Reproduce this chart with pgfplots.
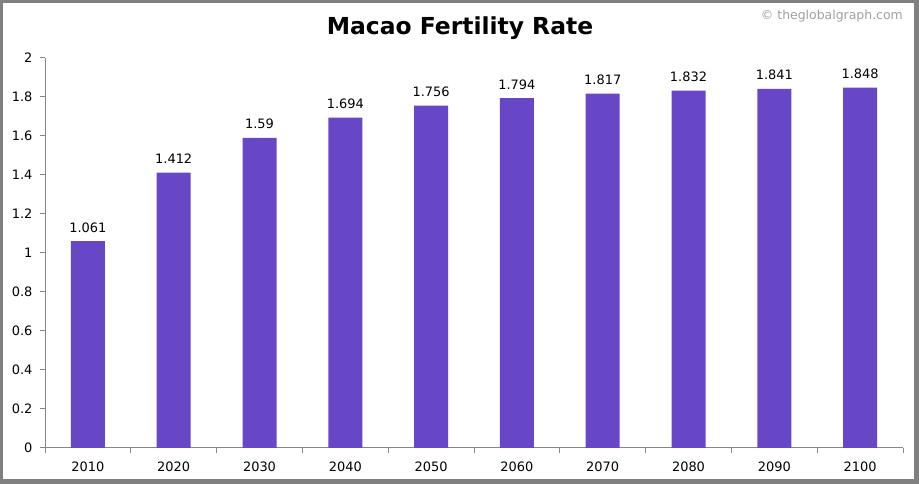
\documentclass[border=0pt]{standalone}
\usepackage{pgfplots}
\pgfplotsset{compat=1.18}
\usepackage{pgfplotstable}
\usepackage{fontspec}
\setmainfont{DejaVu Sans}
\definecolor{barc}{RGB}{104,71,199}
\definecolor{axc}{RGB}{134,134,134}
\definecolor{brd}{RGB}{128,128,128}
\definecolor{cpy}{RGB}{160,160,160}
\pgfplotstableread{
x y lab
0 1.061 1.061
1 1.412 1.412
2 1.59 1.59
3 1.694 1.694
4 1.756 1.756
5 1.794 1.794
6 1.817 1.817
7 1.832 1.832
8 1.841 1.841
9 1.848 1.848
}\datatable
\begin{document}
\begin{tikzpicture}[x=1bp,y=1bp]
\fill[brd] (0,0) rectangle (919,484);
\fill[white] (3,5) rectangle (914,481);
\node[font=\bfseries\fontsize{23.5}{26}\selectfont, anchor=base] at (460,449) {Macao Fertility Rate};
\node[font=\fontsize{12.5}{14}\selectfont, text=cpy, anchor=base east, inner sep=0pt] at (903,464) {© theglobalgraph.com};
\begin{axis}[
  at={(45bp,36bp)}, anchor=south west,
  scale only axis, width=858bp, height=390bp,
  xmin=-0.5, xmax=9.5, ymin=0, ymax=2,
  axis lines=left,
  axis line style={draw=axc, line width=1bp, -},
  /pgf/number format/assume math mode=true,
  xtick={0,...,9},
  xticklabels={2010,2020,2030,2040,2050,2060,2070,2080,2090,2100},
  minor xtick={-0.5,0.5,...,9.5},
  major x tick style={draw=none},
  minor x tick style={draw=axc, line width=1bp},
  ytick={0,0.2,0.4,0.6,0.8,1,1.2,1.4,1.6,1.8,2},
  yticklabels={0,0.2,0.4,0.6,0.8,1,1.2,1.4,1.6,1.8,2},
  y tick style={draw=axc, line width=1bp},
  tick align=outside,
  major tick length=5bp, minor tick length=5bp,
  ticklabel style={font=\fontsize{13}{15}\selectfont},
  xticklabel style={yshift=-5bp},
  yticklabel style={xshift=-4bp},
  ybar, bar width=34bp,
  nodes near coords,
  point meta=explicit symbolic,
  every node near coord/.append style={font=\fontsize{13}{15}\selectfont, anchor=base, yshift=9bp, inner sep=0pt},
  clip=false,
]
\addplot[fill=barc, draw=none] table[x=x, y=y, meta=lab] {\datatable};
\end{axis}
\end{tikzpicture}
\end{document}
